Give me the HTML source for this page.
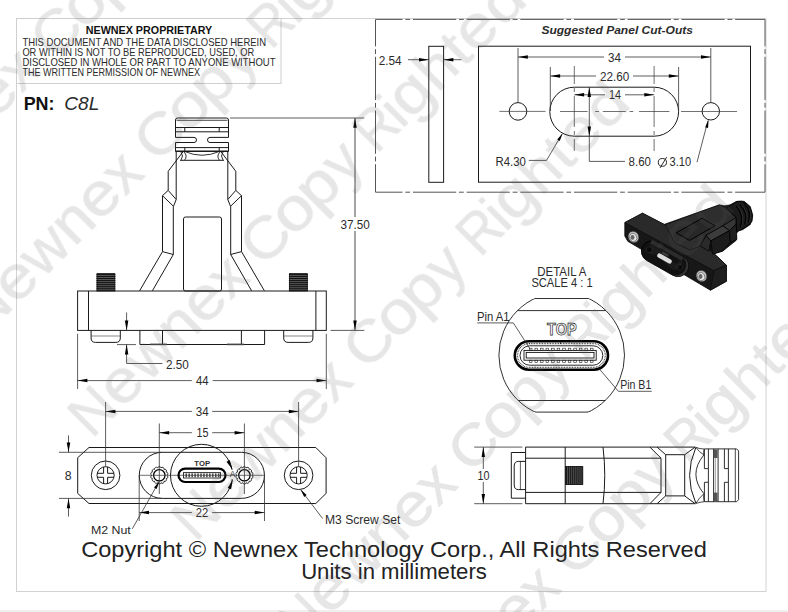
<!DOCTYPE html>
<html><head><meta charset="utf-8"><title>C8L</title>
<style>
html,body{margin:0;padding:0;background:#fff;}
body{width:788px;height:612px;overflow:hidden;}
svg{display:block;}
text{font-family:"Liberation Sans",sans-serif;}
</style></head>
<body>
<svg width="788" height="612" viewBox="0 0 788 612">
<rect width="788" height="612" fill="#fff"/>
<rect x="0" y="610" width="788" height="2" fill="#f0f0f0"/>
<rect x="16.5" y="18.5" width="749.5" height="573" fill="none" stroke="#d2d2d2" stroke-width="1"/>
<rect x="16.5" y="18.5" width="264.5" height="65" fill="none" stroke="#cfcfcf" stroke-width="1"/>
<text x="149" y="34.2" font-size="11.7" text-anchor="middle" font-weight="bold" font-style="normal" fill="#111" textLength="126.5" lengthAdjust="spacingAndGlyphs" >NEWNEX PROPRIETARY</text>
<text x="22.4" y="46.2" font-size="10.2" text-anchor="start" font-weight="normal" font-style="normal" fill="#2a2a2a" textLength="243.6" lengthAdjust="spacingAndGlyphs" >THIS DOCUMENT AND THE DATA DISCLOSED HEREIN</text>
<text x="22.4" y="56.2" font-size="10.2" text-anchor="start" font-weight="normal" font-style="normal" fill="#2a2a2a" textLength="231.8" lengthAdjust="spacingAndGlyphs" >OR WITHIN IS NOT TO BE REPRODUCED, USED, OR</text>
<text x="22.4" y="66.1" font-size="10.2" text-anchor="start" font-weight="normal" font-style="normal" fill="#2a2a2a" textLength="253.1" lengthAdjust="spacingAndGlyphs" >DISCLOSED IN WHOLE OR PART TO ANYONE WITHOUT</text>
<text x="22.4" y="75.9" font-size="10.2" text-anchor="start" font-weight="normal" font-style="normal" fill="#2a2a2a" textLength="177.6" lengthAdjust="spacingAndGlyphs" >THE WRITTEN PERMISSION OF NEWNEX</text>
<text x="23.7" y="110" font-size="17.9" text-anchor="start" font-weight="bold" font-style="normal" fill="#111" >PN:</text>
<text x="64.3" y="110" font-size="17.9" text-anchor="start" font-weight="normal" font-style="italic" fill="#2b2b2b" textLength="35" lengthAdjust="spacingAndGlyphs" >C8L</text>
<text x="394" y="557" font-size="21.2" text-anchor="middle" font-weight="normal" font-style="normal" fill="#222" textLength="625.7" lengthAdjust="spacingAndGlyphs" >Copyright © Newnex Technology Corp., All Rights Reserved</text>
<text x="394" y="578.5" font-size="21.2" text-anchor="middle" font-weight="normal" font-style="normal" fill="#222" textLength="185.7" lengthAdjust="spacingAndGlyphs" >Units in millimeters</text>
<path d="M175.5,137.4 L175.5,120 Q175.5,118 177.5,118 L226.5,118 Q228.5,118 228.5,120 L228.5,137.4" stroke="#1a1a1a" stroke-width="1" fill="none" />
<path d="M175.5,142.5 L175.5,151.5 M228.5,142.5 L228.5,151.5" stroke="#1a1a1a" stroke-width="1" fill="none" />
<line x1="176.5" y1="120.3" x2="227.5" y2="120.3" stroke="#1a1a1a" stroke-width="0.8" />
<line x1="175.5" y1="127.5" x2="228.5" y2="127.5" stroke="#1a1a1a" stroke-width="1" />
<line x1="175.5" y1="131.8" x2="228.5" y2="131.8" stroke="#1a1a1a" stroke-width="1" />
<line x1="184.8" y1="127.5" x2="184.8" y2="131.8" stroke="#1a1a1a" stroke-width="1" />
<line x1="219.2" y1="127.5" x2="219.2" y2="131.8" stroke="#1a1a1a" stroke-width="1" />
<path d="M175.5,137.4 L194,137.4 Q196.5,137.4 196.5,139.95 Q196.5,142.5 194,142.5 L175.5,142.5" stroke="#1a1a1a" stroke-width="1" fill="none" />
<path d="M228.5,137.4 L210,137.4 Q207.5,137.4 207.5,139.95 Q207.5,142.5 210,142.5 L228.5,142.5" stroke="#1a1a1a" stroke-width="1" fill="none" />
<line x1="175.5" y1="147.6" x2="228.5" y2="147.6" stroke="#1a1a1a" stroke-width="1" />
<line x1="175.5" y1="151.2" x2="228.5" y2="151.2" stroke="#1a1a1a" stroke-width="1.6" />
<line x1="184.8" y1="147.6" x2="184.8" y2="151.2" stroke="#1a1a1a" stroke-width="1" />
<line x1="219.2" y1="147.6" x2="219.2" y2="151.2" stroke="#1a1a1a" stroke-width="1" />
<path d="M184.8,151.5 Q202,159 219.2,151.5" stroke="#1a1a1a" stroke-width="0.9" fill="none" />
<path d="M184,152 Q188,156 184.5,160.3 M181,152 Q184,156 181,160" stroke="#1a1a1a" stroke-width="0.9" fill="none" />
<path d="M220,152 Q216,156 219.5,160.3 M223,152 Q220,156 223,160" stroke="#1a1a1a" stroke-width="0.9" fill="none" />
<line x1="180" y1="160.3" x2="224" y2="160.3" stroke="#1a1a1a" stroke-width="1" />
<polyline points="182.8,152 168.2,171.3 168.2,190.4 162.5,195.7 162.5,251.6 139.6,290.8" stroke="#1a1a1a" stroke-width="1" fill="none" />
<line x1="176.2" y1="151.2" x2="176.2" y2="199.5" stroke="#1a1a1a" stroke-width="1" />
<line x1="168.2" y1="190.4" x2="176.2" y2="199.5" stroke="#1a1a1a" stroke-width="1" />
<line x1="176.2" y1="199.5" x2="173.5" y2="206.3" stroke="#1a1a1a" stroke-width="1" />
<line x1="162.5" y1="195.7" x2="173.5" y2="206.3" stroke="#1a1a1a" stroke-width="1" />
<line x1="173.3" y1="206.3" x2="173.3" y2="254.5" stroke="#1a1a1a" stroke-width="1" />
<line x1="162.5" y1="251.6" x2="173.3" y2="254.5" stroke="#1a1a1a" stroke-width="1" />
<line x1="173.3" y1="254.5" x2="152.4" y2="290.8" stroke="#1a1a1a" stroke-width="1" />
<polyline points="221.2,152 235.8,171.3 235.8,190.4 241.5,195.7 241.5,251.6 264.4,290.8" stroke="#1a1a1a" stroke-width="1" fill="none" />
<line x1="227.8" y1="151.2" x2="227.8" y2="199.5" stroke="#1a1a1a" stroke-width="1" />
<line x1="235.8" y1="190.4" x2="227.8" y2="199.5" stroke="#1a1a1a" stroke-width="1" />
<line x1="227.8" y1="199.5" x2="230.5" y2="206.3" stroke="#1a1a1a" stroke-width="1" />
<line x1="241.5" y1="195.7" x2="230.5" y2="206.3" stroke="#1a1a1a" stroke-width="1" />
<line x1="230.7" y1="206.3" x2="230.7" y2="254.5" stroke="#1a1a1a" stroke-width="1" />
<line x1="241.5" y1="251.6" x2="230.7" y2="254.5" stroke="#1a1a1a" stroke-width="1" />
<line x1="230.7" y1="254.5" x2="251.6" y2="290.8" stroke="#1a1a1a" stroke-width="1" />
<rect x="183.5" y="217" width="38" height="74" rx="2" fill="none" stroke="#1a1a1a" stroke-width="1"/>
<rect x="77.6" y="291" width="248.7" height="39.4" fill="none" stroke="#1a1a1a" stroke-width="1"/>
<line x1="88.5" y1="291" x2="88.5" y2="330.4" stroke="#1a1a1a" stroke-width="1" />
<line x1="315.9" y1="291" x2="315.9" y2="330.4" stroke="#1a1a1a" stroke-width="1" />
<rect x="97" y="273.6" width="17.8" height="17.4" fill="#5a5a5a" stroke="#111" stroke-width="0.8"/>
<line x1="96.4" y1="274.60" x2="115.4" y2="274.60" stroke="#111" stroke-width="1"/>
<line x1="96.4" y1="276.55" x2="115.4" y2="276.55" stroke="#111" stroke-width="1"/>
<line x1="96.4" y1="278.50" x2="115.4" y2="278.50" stroke="#111" stroke-width="1"/>
<line x1="96.4" y1="280.45" x2="115.4" y2="280.45" stroke="#111" stroke-width="1"/>
<line x1="96.4" y1="282.40" x2="115.4" y2="282.40" stroke="#111" stroke-width="1"/>
<line x1="96.4" y1="284.35" x2="115.4" y2="284.35" stroke="#111" stroke-width="1"/>
<line x1="96.4" y1="286.30" x2="115.4" y2="286.30" stroke="#111" stroke-width="1"/>
<line x1="96.4" y1="288.25" x2="115.4" y2="288.25" stroke="#111" stroke-width="1"/>
<line x1="96.4" y1="290.20" x2="115.4" y2="290.20" stroke="#111" stroke-width="1"/>
<rect x="289.5" y="273.6" width="17.8" height="17.4" fill="#5a5a5a" stroke="#111" stroke-width="0.8"/>
<line x1="288.9" y1="274.60" x2="307.9" y2="274.60" stroke="#111" stroke-width="1"/>
<line x1="288.9" y1="276.55" x2="307.9" y2="276.55" stroke="#111" stroke-width="1"/>
<line x1="288.9" y1="278.50" x2="307.9" y2="278.50" stroke="#111" stroke-width="1"/>
<line x1="288.9" y1="280.45" x2="307.9" y2="280.45" stroke="#111" stroke-width="1"/>
<line x1="288.9" y1="282.40" x2="307.9" y2="282.40" stroke="#111" stroke-width="1"/>
<line x1="288.9" y1="284.35" x2="307.9" y2="284.35" stroke="#111" stroke-width="1"/>
<line x1="288.9" y1="286.30" x2="307.9" y2="286.30" stroke="#111" stroke-width="1"/>
<line x1="288.9" y1="288.25" x2="307.9" y2="288.25" stroke="#111" stroke-width="1"/>
<line x1="288.9" y1="290.20" x2="307.9" y2="290.20" stroke="#111" stroke-width="1"/>
<path d="M91.1,330.4 L91.1,338 Q91.1,342.4 95.5,342.4 L115.89999999999999,342.4 Q120.3,342.4 120.3,338 L120.3,330.4" stroke="#1a1a1a" stroke-width="1" fill="none" />
<line x1="91.1" y1="336" x2="120.3" y2="336" stroke="#555" stroke-width="0.7" />
<path d="M283.7,330.4 L283.7,338 Q283.7,342.4 288.09999999999997,342.4 L308.5,342.4 Q312.9,342.4 312.9,338 L312.9,330.4" stroke="#1a1a1a" stroke-width="1" fill="none" />
<line x1="283.7" y1="336" x2="312.9" y2="336" stroke="#555" stroke-width="0.7" />
<polyline points="139.9,330.4 139.9,344.5 264.6,344.5 264.6,330.4" stroke="#1a1a1a" stroke-width="1" fill="none" />
<line x1="162.5" y1="330.4" x2="162.5" y2="344.5" stroke="#1a1a1a" stroke-width="1" />
<line x1="241.4" y1="330.4" x2="241.4" y2="344.5" stroke="#1a1a1a" stroke-width="1" />
<rect x="150" y="343.6" width="17" height="1.6" fill="#444"/>
<rect x="227" y="343.6" width="17" height="1.6" fill="#444"/>
<line x1="230" y1="118" x2="364.3" y2="118" stroke="#333" stroke-width="0.8" />
<line x1="330.5" y1="330.4" x2="364.3" y2="330.4" stroke="#333" stroke-width="0.8" />
<line x1="355" y1="118" x2="355" y2="217" stroke="#333" stroke-width="0.9" />
<line x1="355" y1="231" x2="355" y2="330.4" stroke="#333" stroke-width="0.9" />
<polygon points="355.00,118.00 353.25,127.80 356.75,127.80" fill="#000"/>
<polygon points="355.00,330.40 356.75,320.60 353.25,320.60" fill="#000"/>
<text x="355.2" y="229.3" font-size="12.7" text-anchor="middle" font-weight="normal" font-style="normal" fill="#2b2b2b" textLength="29.4" lengthAdjust="spacingAndGlyphs" >37.50</text>
<line x1="126.6" y1="312.4" x2="126.6" y2="330.4" stroke="#333" stroke-width="0.8" />
<polygon points="126.60,330.40 128.35,320.60 124.85,320.60" fill="#000"/>
<line x1="117" y1="344.6" x2="136" y2="344.6" stroke="#333" stroke-width="0.8" />
<polyline points="126.6,344.6 126.6,363.5 162.4,363.5" stroke="#333" stroke-width="0.8" fill="none" />
<polygon points="126.60,344.60 124.85,354.40 128.35,354.40" fill="#000"/>
<text x="166" y="369" font-size="12.5" text-anchor="start" font-weight="normal" font-style="normal" fill="#2b2b2b" textLength="22.8" lengthAdjust="spacingAndGlyphs" >2.50</text>
<line x1="77.6" y1="333.8" x2="77.6" y2="389" stroke="#333" stroke-width="0.8" />
<line x1="326.3" y1="333.8" x2="326.3" y2="389" stroke="#333" stroke-width="0.8" />
<line x1="77.6" y1="380.6" x2="191.8" y2="380.6" stroke="#333" stroke-width="0.8" />
<line x1="212.6" y1="380.6" x2="326.3" y2="380.6" stroke="#333" stroke-width="0.8" />
<polygon points="77.60,380.60 87.40,382.35 87.40,378.85" fill="#000"/>
<polygon points="326.30,380.60 316.50,378.85 316.50,382.35" fill="#000"/>
<text x="202.3" y="384.8" font-size="12.0" text-anchor="middle" font-weight="normal" font-style="normal" fill="#2b2b2b" textLength="12.6" lengthAdjust="spacingAndGlyphs" >44</text>
<polygon points="89,447.5 315.8,447.5 326.1,457.8 326.1,493.4 315.8,503.5 89,503.5 77.7,493.4 77.7,457.7" stroke="#1a1a1a" stroke-width="1" fill="none" />
<path d="M162.3,452.3 L241.4,452.3 A23.05,23.05 0 0 1 241.4,498.40000000000003 L162.3,498.40000000000003 A23.05,23.05 0 0 1 162.3,452.3 Z" stroke="#1a1a1a" stroke-width="1" fill="none" />
<line x1="59" y1="452.3" x2="162.3" y2="452.3" stroke="#333" stroke-width="0.8" />
<line x1="59" y1="498.4" x2="162.3" y2="498.4" stroke="#333" stroke-width="0.8" />
<line x1="68.5" y1="435.4" x2="68.5" y2="452.3" stroke="#333" stroke-width="0.8" />
<polygon points="68.50,452.30 70.25,442.50 66.75,442.50" fill="#000"/>
<line x1="68.5" y1="498.4" x2="68.5" y2="516.6" stroke="#333" stroke-width="0.8" />
<polygon points="68.50,498.40 66.75,508.20 70.25,508.20" fill="#000"/>
<text x="68.1" y="480" font-size="12.3" text-anchor="middle" font-weight="normal" font-style="normal" fill="#2b2b2b" >8</text>
<circle cx="105.6" cy="475.3" r="14.3" stroke="#1a1a1a" stroke-width="1" fill="none" />
<circle cx="105.6" cy="475.3" r="8.6" stroke="#1a1a1a" stroke-width="1" fill="none" />
<path d="M107.60,483.66 L107.60,477.30 L113.96,477.30 M107.60,466.94 L107.60,473.30 L113.96,473.30 M103.60,483.66 L103.60,477.30 L97.24,477.30 M103.60,466.94 L103.60,473.30 L97.24,473.30 " stroke="#1a1a1a" stroke-width="1" fill="none" />
<circle cx="298.6" cy="475.3" r="14.3" stroke="#1a1a1a" stroke-width="1" fill="none" />
<circle cx="298.6" cy="475.3" r="8.6" stroke="#1a1a1a" stroke-width="1" fill="none" />
<path d="M300.60,483.66 L300.60,477.30 L306.96,477.30 M300.60,466.94 L300.60,473.30 L306.96,473.30 M296.60,483.66 L296.60,477.30 L290.24,477.30 M296.60,466.94 L296.60,473.30 L290.24,473.30 " stroke="#1a1a1a" stroke-width="1" fill="none" />
<path d="M166.90,475.30 A1.75,1.75 0 0 1 166.15,478.60 A1.75,1.75 0 0 1 164.04,481.24 A1.75,1.75 0 0 1 160.99,482.71 A1.75,1.75 0 0 1 157.61,482.71 A1.75,1.75 0 0 1 154.56,481.24 A1.75,1.75 0 0 1 152.45,478.60 A1.75,1.75 0 0 1 151.70,475.30 A1.75,1.75 0 0 1 152.45,472.00 A1.75,1.75 0 0 1 154.56,469.36 A1.75,1.75 0 0 1 157.61,467.89 A1.75,1.75 0 0 1 160.99,467.89 A1.75,1.75 0 0 1 164.04,469.36 A1.75,1.75 0 0 1 166.15,472.00 A1.75,1.75 0 0 1 166.90,475.30" stroke="#1a1a1a" stroke-width="0.9" fill="none" />
<circle cx="159.3" cy="475.3" r="5.7" stroke="#000" stroke-width="1.25" fill="none" />
<path d="M252.00,475.30 A1.75,1.75 0 0 1 251.25,478.60 A1.75,1.75 0 0 1 249.14,481.24 A1.75,1.75 0 0 1 246.09,482.71 A1.75,1.75 0 0 1 242.71,482.71 A1.75,1.75 0 0 1 239.66,481.24 A1.75,1.75 0 0 1 237.55,478.60 A1.75,1.75 0 0 1 236.80,475.30 A1.75,1.75 0 0 1 237.55,472.00 A1.75,1.75 0 0 1 239.66,469.36 A1.75,1.75 0 0 1 242.71,467.89 A1.75,1.75 0 0 1 246.09,467.89 A1.75,1.75 0 0 1 249.14,469.36 A1.75,1.75 0 0 1 251.25,472.00 A1.75,1.75 0 0 1 252.00,475.30" stroke="#1a1a1a" stroke-width="0.9" fill="none" />
<circle cx="244.4" cy="475.3" r="5.7" stroke="#000" stroke-width="1.25" fill="none" />
<line x1="139" y1="475.3" x2="265" y2="475.3" stroke="#333" stroke-width="0.7" />
<circle cx="201.5" cy="475.3" r="31" stroke="#1a1a1a" stroke-width="1" fill="none" />
<rect x="178.5" y="468.6" width="47" height="13.4" rx="6.7" fill="none" stroke="#000" stroke-width="2.2"/>
<rect x="183.5" y="472.6" width="37" height="5.4" fill="none" stroke="#222" stroke-width="0.9"/>
<rect x="185.50" y="473.4" width="1.5" height="3.8" fill="#444"/>
<rect x="188.45" y="473.4" width="1.5" height="3.8" fill="#444"/>
<rect x="191.40" y="473.4" width="1.5" height="3.8" fill="#444"/>
<rect x="194.35" y="473.4" width="1.5" height="3.8" fill="#444"/>
<rect x="197.30" y="473.4" width="1.5" height="3.8" fill="#444"/>
<rect x="200.25" y="473.4" width="1.5" height="3.8" fill="#444"/>
<rect x="203.20" y="473.4" width="1.5" height="3.8" fill="#444"/>
<rect x="206.15" y="473.4" width="1.5" height="3.8" fill="#444"/>
<rect x="209.10" y="473.4" width="1.5" height="3.8" fill="#444"/>
<rect x="212.05" y="473.4" width="1.5" height="3.8" fill="#444"/>
<rect x="215.00" y="473.4" width="1.5" height="3.8" fill="#444"/>
<rect x="217.95" y="473.4" width="1.5" height="3.8" fill="#444"/>
<text x="202.2" y="465.5" font-size="7.6" text-anchor="middle" font-weight="bold" font-style="normal" fill="#2b2b2b" textLength="15.7" lengthAdjust="spacingAndGlyphs" >TOP</text>
<rect x="229.6" y="469.8" width="5.6" height="9.4" fill="#fff"/>
<line x1="229.6" y1="475.3" x2="235.2" y2="475.3" stroke="#333" stroke-width="0.7" />
<text x="232.6" y="477.3" font-size="9.2" text-anchor="middle" font-weight="normal" font-style="normal" fill="#2b2b2b" textLength="5.6" lengthAdjust="spacingAndGlyphs" >A</text>
<polygon points="232.60,469.80 229.74,460.05 226.52,461.66" fill="#000"/>
<polygon points="232.90,479.20 227.72,487.94 231.10,489.20" fill="#000"/>
<line x1="105.6" y1="402" x2="105.6" y2="466.7" stroke="#333" stroke-width="0.8" />
<line x1="298.6" y1="402" x2="298.6" y2="466.7" stroke="#333" stroke-width="0.8" />
<line x1="105.6" y1="411.4" x2="191.9" y2="411.4" stroke="#333" stroke-width="0.8" />
<line x1="212.2" y1="411.4" x2="298.6" y2="411.4" stroke="#333" stroke-width="0.8" />
<polygon points="105.60,411.40 115.40,413.15 115.40,409.65" fill="#000"/>
<polygon points="298.60,411.40 288.80,409.65 288.80,413.15" fill="#000"/>
<text x="202.2" y="416.2" font-size="12.3" text-anchor="middle" font-weight="normal" font-style="normal" fill="#2b2b2b" textLength="12.9" lengthAdjust="spacingAndGlyphs" >34</text>
<line x1="159.3" y1="423.5" x2="159.3" y2="494" stroke="#333" stroke-width="0.8" />
<line x1="244.4" y1="423.5" x2="244.4" y2="494" stroke="#333" stroke-width="0.8" />
<line x1="159.3" y1="432.7" x2="191.9" y2="432.7" stroke="#333" stroke-width="0.8" />
<line x1="212.2" y1="432.7" x2="244.4" y2="432.7" stroke="#333" stroke-width="0.8" />
<polygon points="159.30,432.70 169.10,434.45 169.10,430.95" fill="#000"/>
<polygon points="244.40,432.70 234.60,430.95 234.60,434.45" fill="#000"/>
<text x="202.6" y="437" font-size="12.3" text-anchor="middle" font-weight="normal" font-style="normal" fill="#2b2b2b" textLength="12" lengthAdjust="spacingAndGlyphs" >15</text>
<line x1="139.2" y1="475.3" x2="139.2" y2="521" stroke="#333" stroke-width="0.8" />
<line x1="264.5" y1="475.3" x2="264.5" y2="521" stroke="#333" stroke-width="0.8" />
<line x1="139.2" y1="512.6" x2="191.9" y2="512.6" stroke="#333" stroke-width="0.8" />
<line x1="212.2" y1="512.6" x2="264.5" y2="512.6" stroke="#333" stroke-width="0.8" />
<polygon points="139.20,512.60 149.00,514.35 149.00,510.85" fill="#000"/>
<polygon points="264.50,512.60 254.70,510.85 254.70,514.35" fill="#000"/>
<text x="202" y="517" font-size="12.3" text-anchor="middle" font-weight="normal" font-style="normal" fill="#2b2b2b" textLength="12.5" lengthAdjust="spacingAndGlyphs" >22</text>
<line x1="158.6" y1="482.5" x2="132.3" y2="528.8" stroke="#333" stroke-width="0.8" />
<polygon points="159.30,481.20 154.07,487.43 156.68,488.91" fill="#000"/>
<text x="90.9" y="534.2" font-size="11.7" text-anchor="start" font-weight="normal" font-style="normal" fill="#2b2b2b" textLength="39.9" lengthAdjust="spacingAndGlyphs" >M2 Nut</text>
<line x1="300.9" y1="490" x2="322.6" y2="518.5" stroke="#333" stroke-width="0.8" />
<polygon points="300.60,489.60 304.20,496.90 306.60,495.10" fill="#000"/>
<text x="325" y="523.5" font-size="12" text-anchor="start" font-weight="normal" font-style="normal" fill="#2b2b2b" textLength="75.4" lengthAdjust="spacingAndGlyphs" >M3 Screw Set</text>
<line x1="375.5" y1="19.4" x2="765" y2="19.4" stroke="#555" stroke-width="1" stroke-dasharray="43.3,2.8,4.8,2.8" stroke-dashoffset="16.3"/>
<line x1="375.5" y1="192.2" x2="765" y2="192.2" stroke="#555" stroke-width="1" stroke-dasharray="43.3,2.8,4.8,2.8" stroke-dashoffset="16.3"/>
<line x1="375.5" y1="19.4" x2="375.5" y2="192.2" stroke="#555" stroke-width="1" stroke-dasharray="43.3,2.8,4.8,2.8" stroke-dashoffset="16.3"/>
<line x1="765" y1="19.4" x2="765" y2="192.2" stroke="#555" stroke-width="1" stroke-dasharray="43.3,2.8,4.8,2.8" stroke-dashoffset="16.3"/>
<text x="617.2" y="33.8" font-size="10.6" text-anchor="middle" font-weight="bold" font-style="italic" fill="#2b2b2b" textLength="151.6" lengthAdjust="spacingAndGlyphs" >Suggested Panel Cut-Outs</text>
<rect x="428.8" y="46.3" width="14.8" height="136" fill="none" stroke="#1a1a1a" stroke-width="1"/>
<rect x="478.5" y="46.2" width="272" height="136" fill="none" stroke="#1a1a1a" stroke-width="1"/>
<line x1="408" y1="59.7" x2="428.8" y2="59.7" stroke="#333" stroke-width="0.8" />
<polygon points="428.80,59.70 419.00,57.95 419.00,61.45" fill="#000"/>
<line x1="443.6" y1="59.7" x2="461.3" y2="59.7" stroke="#333" stroke-width="0.8" />
<polygon points="443.60,59.70 453.40,61.45 453.40,57.95" fill="#000"/>
<text x="390.2" y="64.7" font-size="12" text-anchor="middle" font-weight="normal" font-style="normal" fill="#2b2b2b" textLength="23" lengthAdjust="spacingAndGlyphs" >2.54</text>
<circle cx="518" cy="111.4" r="8.8" stroke="#1a1a1a" stroke-width="1" fill="none" />
<circle cx="710.8" cy="111.3" r="8.7" stroke="#1a1a1a" stroke-width="1" fill="none" />
<path d="M574.3,87.2 L654.1,87.2 A24.5,24.5 0 0 1 654.1,136.2 L574.3,136.2 A24.5,24.5 0 0 1 574.3,87.2 Z" stroke="#1a1a1a" stroke-width="1" fill="none" />
<line x1="499.4" y1="111.4" x2="545.5" y2="111.4" stroke="#333" stroke-width="0.7" />
<line x1="560" y1="111.5" x2="587.6" y2="111.5" stroke="#333" stroke-width="0.7" />
<line x1="595.2" y1="111.5" x2="599" y2="111.5" stroke="#333" stroke-width="0.7" />
<line x1="602.8" y1="111.5" x2="625.7" y2="111.5" stroke="#333" stroke-width="0.7" />
<line x1="629.5" y1="111.5" x2="633.3" y2="111.5" stroke="#333" stroke-width="0.7" />
<line x1="639" y1="111.5" x2="669.4" y2="111.5" stroke="#333" stroke-width="0.7" />
<line x1="681" y1="111.5" x2="737" y2="111.5" stroke="#333" stroke-width="0.7" />
<line x1="574.3" y1="66" x2="574.3" y2="84" stroke="#333" stroke-width="0.7" />
<line x1="574.3" y1="88" x2="574.3" y2="92" stroke="#333" stroke-width="0.7" />
<line x1="574.3" y1="96" x2="574.3" y2="127" stroke="#333" stroke-width="0.7" />
<line x1="574.3" y1="131" x2="574.3" y2="135" stroke="#333" stroke-width="0.7" />
<line x1="574.3" y1="139" x2="574.3" y2="151" stroke="#333" stroke-width="0.7" />
<line x1="654.1" y1="66" x2="654.1" y2="84" stroke="#333" stroke-width="0.7" />
<line x1="654.1" y1="88" x2="654.1" y2="92" stroke="#333" stroke-width="0.7" />
<line x1="654.1" y1="96" x2="654.1" y2="127" stroke="#333" stroke-width="0.7" />
<line x1="654.1" y1="131" x2="654.1" y2="135" stroke="#333" stroke-width="0.7" />
<line x1="654.1" y1="139" x2="654.1" y2="151" stroke="#333" stroke-width="0.7" />
<line x1="518" y1="48" x2="518" y2="102.6" stroke="#333" stroke-width="0.8" />
<line x1="710.8" y1="48" x2="710.8" y2="102.6" stroke="#333" stroke-width="0.8" />
<line x1="518" y1="57" x2="604" y2="57" stroke="#333" stroke-width="0.8" />
<line x1="625" y1="57" x2="710.8" y2="57" stroke="#333" stroke-width="0.8" />
<polygon points="518.00,57.00 527.80,58.75 527.80,55.25" fill="#000"/>
<polygon points="710.80,57.00 701.00,55.25 701.00,58.75" fill="#000"/>
<text x="614.5" y="62.1" font-size="12" text-anchor="middle" font-weight="normal" font-style="normal" fill="#2b2b2b" textLength="13" lengthAdjust="spacingAndGlyphs" >34</text>
<line x1="550.3" y1="67" x2="550.3" y2="111" stroke="#333" stroke-width="0.8" />
<line x1="678.6" y1="67" x2="678.6" y2="111" stroke="#333" stroke-width="0.8" />
<line x1="550.3" y1="76" x2="596" y2="76" stroke="#333" stroke-width="0.8" />
<line x1="633" y1="76" x2="678.6" y2="76" stroke="#333" stroke-width="0.8" />
<polygon points="550.30,76.00 560.10,77.75 560.10,74.25" fill="#000"/>
<polygon points="678.60,76.00 668.80,74.25 668.80,77.75" fill="#000"/>
<text x="614.6" y="80.6" font-size="12" text-anchor="middle" font-weight="normal" font-style="normal" fill="#2b2b2b" textLength="29.2" lengthAdjust="spacingAndGlyphs" >22.60</text>
<line x1="574.3" y1="94.8" x2="605" y2="94.8" stroke="#333" stroke-width="0.8" />
<line x1="625" y1="94.8" x2="654.1" y2="94.8" stroke="#333" stroke-width="0.8" />
<polygon points="574.30,94.80 584.10,96.55 584.10,93.05" fill="#000"/>
<polygon points="654.10,94.80 644.30,93.05 644.30,96.55" fill="#000"/>
<text x="615" y="99.4" font-size="12" text-anchor="middle" font-weight="normal" font-style="normal" fill="#2b2b2b" textLength="12" lengthAdjust="spacingAndGlyphs" >14</text>
<polyline points="589.3,87.2 589.3,161.4 625,161.4" stroke="#333" stroke-width="0.8" fill="none" />
<polygon points="589.30,87.20 587.55,97.00 591.05,97.00" fill="#000"/>
<polygon points="589.30,136.20 591.05,126.40 587.55,126.40" fill="#000"/>
<text x="628.6" y="166.2" font-size="12" text-anchor="start" font-weight="normal" font-style="normal" fill="#2b2b2b" textLength="22.4" lengthAdjust="spacingAndGlyphs" >8.60</text>
<ellipse cx="662.4" cy="162.4" rx="4.1" ry="3.9" fill="none" stroke="#111" stroke-width="0.9"/>
<line x1="660.1" y1="167.8" x2="666.7" y2="157.1" stroke="#111" stroke-width="0.9" />
<text x="669.5" y="166.2" font-size="12" text-anchor="start" font-weight="normal" font-style="normal" fill="#2b2b2b" textLength="21.6" lengthAdjust="spacingAndGlyphs" >3.10</text>
<line x1="697" y1="162.2" x2="708" y2="120.5" stroke="#333" stroke-width="0.8" />
<polygon points="708.60,119.80 705.15,127.17 708.06,127.92" fill="#000"/>
<text x="495.5" y="166.3" font-size="12" text-anchor="start" font-weight="normal" font-style="normal" fill="#2b2b2b" textLength="30.4" lengthAdjust="spacingAndGlyphs" >R4.30</text>
<polyline points="528.8,160.4 546.5,160.4 562.2,133.9" stroke="#333" stroke-width="0.8" fill="none" />
<polygon points="562.60,133.30 557.23,139.42 559.81,140.95" fill="#000"/>
<text x="561.8" y="276" font-size="12.3" text-anchor="middle" font-weight="normal" font-style="normal" fill="#2b2b2b" textLength="49.1" lengthAdjust="spacingAndGlyphs" >DETAIL A</text>
<text x="562" y="287.3" font-size="12.3" text-anchor="middle" font-weight="normal" font-style="normal" fill="#2b2b2b" textLength="61.2" lengthAdjust="spacingAndGlyphs" >SCALE 4 : 1</text>
<clipPath id="dclip"><rect x="480" y="298.5" width="160" height="113.6"/></clipPath>
<g clip-path="url(#dclip)"><circle cx="561.7" cy="355.2" r="62.8" stroke="#1a1a1a" stroke-width="0.9" fill="none"/></g>
<line x1="534.7" y1="298.5" x2="588.7" y2="298.5" stroke="#1a1a1a" stroke-width="0.9" />
<line x1="535.13" y1="412.1" x2="588.27" y2="412.1" stroke="#1a1a1a" stroke-width="0.9" />
<line x1="517.49" y1="310.6" x2="605.91" y2="310.6" stroke="#1a1a1a" stroke-width="0.9" />
<line x1="518.21" y1="400.5" x2="605.19" y2="400.5" stroke="#1a1a1a" stroke-width="0.9" />
<text x="561.9" y="334.6" font-size="17.2" text-anchor="middle" font-weight="bold" font-style="normal" fill="#fff" textLength="29.7" lengthAdjust="spacingAndGlyphs" stroke="#1a1a1a" stroke-width="0.75">TOP</text>
<rect x="514.8" y="341.3" width="93.2" height="28.4" rx="14.2" fill="none" stroke="#000" stroke-width="2.6"/>
<rect x="517.5" y="343.6" width="87.8" height="23.8" rx="11.9" fill="none" stroke="#333" stroke-width="1.2" stroke-dasharray="0.8,0.8"/>
<rect x="520" y="345.8" width="82.8" height="19.4" rx="9.7" fill="none" stroke="#111" stroke-width="0.9"/>
<rect x="524" y="350.4" width="72.2" height="9.8" fill="none" stroke="#111" stroke-width="0.9"/>
<rect x="526.2" y="352.4" width="67.8" height="5.6" fill="none" stroke="#111" stroke-width="0.9"/>
<rect x="529.40" y="348.2" width="2.6" height="2.2" fill="none" stroke="#222" stroke-width="0.6"/>
<rect x="529.40" y="360.2" width="2.6" height="2.2" fill="none" stroke="#222" stroke-width="0.6"/>
<rect x="534.95" y="348.2" width="2.6" height="2.2" fill="none" stroke="#222" stroke-width="0.6"/>
<rect x="534.95" y="360.2" width="2.6" height="2.2" fill="none" stroke="#222" stroke-width="0.6"/>
<rect x="540.50" y="348.2" width="2.6" height="2.2" fill="none" stroke="#222" stroke-width="0.6"/>
<rect x="540.50" y="360.2" width="2.6" height="2.2" fill="none" stroke="#222" stroke-width="0.6"/>
<rect x="546.05" y="348.2" width="2.6" height="2.2" fill="none" stroke="#222" stroke-width="0.6"/>
<rect x="546.05" y="360.2" width="2.6" height="2.2" fill="none" stroke="#222" stroke-width="0.6"/>
<rect x="551.60" y="348.2" width="2.6" height="2.2" fill="none" stroke="#222" stroke-width="0.6"/>
<rect x="551.60" y="360.2" width="2.6" height="2.2" fill="none" stroke="#222" stroke-width="0.6"/>
<rect x="557.15" y="348.2" width="2.6" height="2.2" fill="none" stroke="#222" stroke-width="0.6"/>
<rect x="557.15" y="360.2" width="2.6" height="2.2" fill="none" stroke="#222" stroke-width="0.6"/>
<rect x="562.70" y="348.2" width="2.6" height="2.2" fill="none" stroke="#222" stroke-width="0.6"/>
<rect x="562.70" y="360.2" width="2.6" height="2.2" fill="none" stroke="#222" stroke-width="0.6"/>
<rect x="568.25" y="348.2" width="2.6" height="2.2" fill="none" stroke="#222" stroke-width="0.6"/>
<rect x="568.25" y="360.2" width="2.6" height="2.2" fill="none" stroke="#222" stroke-width="0.6"/>
<rect x="573.80" y="348.2" width="2.6" height="2.2" fill="none" stroke="#222" stroke-width="0.6"/>
<rect x="573.80" y="360.2" width="2.6" height="2.2" fill="none" stroke="#222" stroke-width="0.6"/>
<rect x="579.35" y="348.2" width="2.6" height="2.2" fill="none" stroke="#222" stroke-width="0.6"/>
<rect x="579.35" y="360.2" width="2.6" height="2.2" fill="none" stroke="#222" stroke-width="0.6"/>
<rect x="584.90" y="348.2" width="2.6" height="2.2" fill="none" stroke="#222" stroke-width="0.6"/>
<rect x="584.90" y="360.2" width="2.6" height="2.2" fill="none" stroke="#222" stroke-width="0.6"/>
<rect x="590.45" y="348.2" width="2.6" height="2.2" fill="none" stroke="#222" stroke-width="0.6"/>
<rect x="590.45" y="360.2" width="2.6" height="2.2" fill="none" stroke="#222" stroke-width="0.6"/>
<line x1="560.5" y1="341" x2="560.5" y2="344" stroke="#1a1a1a" stroke-width="0.8" />
<text x="476.9" y="320.9" font-size="11.9" text-anchor="start" font-weight="normal" font-style="normal" fill="#2b2b2b" textLength="32.6" lengthAdjust="spacingAndGlyphs" >Pin A1</text>
<polyline points="477.3,322.9 513.3,322.9 530.4,349.5" stroke="#333" stroke-width="0.8" fill="none" />
<text x="620.2" y="388.9" font-size="11.9" text-anchor="start" font-weight="normal" font-style="normal" fill="#2b2b2b" textLength="31.1" lengthAdjust="spacingAndGlyphs" >Pin B1</text>
<polyline points="651.7,391.3 618.4,391.3 598.9,368.4" stroke="#333" stroke-width="0.8" fill="none" />
<line x1="474.2" y1="447.1" x2="522.4" y2="447.1" stroke="#333" stroke-width="0.8" />
<line x1="474.2" y1="503.7" x2="522.4" y2="503.7" stroke="#333" stroke-width="0.8" />
<line x1="483.3" y1="447.1" x2="483.3" y2="469" stroke="#333" stroke-width="0.8" />
<line x1="483.3" y1="482" x2="483.3" y2="503.7" stroke="#333" stroke-width="0.8" />
<polygon points="483.30,447.10 481.55,456.90 485.05,456.90" fill="#000"/>
<polygon points="483.30,503.70 485.05,493.90 481.55,493.90" fill="#000"/>
<text x="483.6" y="479.9" font-size="12" text-anchor="middle" font-weight="normal" font-style="normal" fill="#2b2b2b" textLength="12" lengthAdjust="spacingAndGlyphs" >10</text>
<polyline points="695.2,447.1 525.6,447.1 525.6,503.7 695.2,503.7" stroke="#1a1a1a" stroke-width="1" fill="none" />
<line x1="525.6" y1="458.2" x2="661" y2="458.2" stroke="#1a1a1a" stroke-width="1" />
<line x1="525.6" y1="492.4" x2="661" y2="492.4" stroke="#1a1a1a" stroke-width="1" />
<line x1="565.2" y1="447.1" x2="565.2" y2="503.7" stroke="#1a1a1a" stroke-width="1" />
<path d="M603,447.1 Q606.5,475.4 603,503.7" stroke="#1a1a1a" stroke-width="1" fill="none" />
<polyline points="525.6,452.5 511.3,452.5 511.3,498.2 525.6,498.2" stroke="#1a1a1a" stroke-width="1" fill="none" />
<path d="M525.6,461.4 L518.5,461.4 Q514.2,461.4 514.2,466 L514.2,485 Q514.2,489.6 518.5,489.6 L525.6,489.6" stroke="#1a1a1a" stroke-width="1" fill="none" />
<line x1="520.4" y1="461.4" x2="520.4" y2="489.6" stroke="#1a1a1a" stroke-width="0.7" />
<rect x="565.6" y="466.6" width="17.2" height="17.8" fill="#5a5a5a" stroke="#111" stroke-width="0.8"/>
<line x1="566.40" y1="466" x2="566.40" y2="485" stroke="#111" stroke-width="1"/>
<line x1="568.35" y1="466" x2="568.35" y2="485" stroke="#111" stroke-width="1"/>
<line x1="570.30" y1="466" x2="570.30" y2="485" stroke="#111" stroke-width="1"/>
<line x1="572.25" y1="466" x2="572.25" y2="485" stroke="#111" stroke-width="1"/>
<line x1="574.20" y1="466" x2="574.20" y2="485" stroke="#111" stroke-width="1"/>
<line x1="576.15" y1="466" x2="576.15" y2="485" stroke="#111" stroke-width="1"/>
<line x1="578.10" y1="466" x2="578.10" y2="485" stroke="#111" stroke-width="1"/>
<line x1="580.05" y1="466" x2="580.05" y2="485" stroke="#111" stroke-width="1"/>
<line x1="582.00" y1="466" x2="582.00" y2="485" stroke="#111" stroke-width="1"/>
<line x1="649.9" y1="447.1" x2="661" y2="458.2" stroke="#1a1a1a" stroke-width="1" />
<line x1="657.1" y1="447.1" x2="665.7" y2="454.7" stroke="#1a1a1a" stroke-width="1" />
<line x1="649.9" y1="503.7" x2="661" y2="492.4" stroke="#1a1a1a" stroke-width="1" />
<line x1="657.1" y1="503.7" x2="665.7" y2="495.9" stroke="#1a1a1a" stroke-width="1" />
<line x1="661" y1="458.2" x2="661" y2="492.4" stroke="#1a1a1a" stroke-width="1" />
<line x1="665.7" y1="454.7" x2="665.7" y2="495.9" stroke="#1a1a1a" stroke-width="1" />
<polyline points="665.7,454.7 684.7,454.7 684.7,495.9 665.7,495.9" stroke="#1a1a1a" stroke-width="1" fill="none" />
<line x1="684.7" y1="454.7" x2="695.2" y2="447.1" stroke="#1a1a1a" stroke-width="1" />
<line x1="684.7" y1="495.9" x2="695.2" y2="503.7" stroke="#1a1a1a" stroke-width="1" />
<path d="M695.9,447.4 Q683.3,475.4 695.9,503.4" stroke="#1a1a1a" stroke-width="1" fill="none" />
<path d="M703.9,454.9 Q687.9,474.3 703.9,493.7" stroke="#1a1a1a" stroke-width="0.9" fill="none" />
<path d="M695.9,447.4 Q700,449 704.2,449 Q703,453 703.9,454.9 Q699,452 695.9,447.4 Z" stroke="#1a1a1a" stroke-width="0.8" fill="none" />
<path d="M695.9,503.4 Q700,502 704.2,501.7 Q703,497 703.9,493.7 Q699,498 695.9,503.4 Z" stroke="#1a1a1a" stroke-width="0.8" fill="none" />
<polyline points="704.4,448.9 736.6,448.9 738.6,450.9 738.6,499.7 736.6,501.7 704.4,501.7" stroke="#1a1a1a" stroke-width="0.9" fill="none" />
<polyline points="704.4,448.9 704.4,468.6 708.4,468.6 708.4,482.3 704.4,482.3 704.4,501.7" stroke="#1a1a1a" stroke-width="0.9" fill="none" />
<line x1="708.4" y1="448.9" x2="708.4" y2="468.6" stroke="#1a1a1a" stroke-width="0.9" />
<line x1="708.4" y1="482.3" x2="708.4" y2="501.7" stroke="#1a1a1a" stroke-width="0.9" />
<line x1="713.6" y1="448.9" x2="713.6" y2="501.7" stroke="#1a1a1a" stroke-width="0.9" />
<line x1="718.1" y1="448.9" x2="718.1" y2="501.7" stroke="#1a1a1a" stroke-width="0.9" />
<line x1="715.4" y1="448.9" x2="715.4" y2="501.7" stroke="#666" stroke-width="0.6" />
<rect x="714" y="449.4" width="3.6" height="8.6" fill="#555"/>
<rect x="714" y="492.59999999999997" width="3.6" height="8.6" fill="#555"/>
<polyline points="724.4,448.9 724.4,468.6 728.4,468.6 728.4,482.3 724.4,482.3 724.4,501.7" stroke="#1a1a1a" stroke-width="0.9" fill="none" />
<line x1="728.4" y1="448.9" x2="728.4" y2="468.6" stroke="#1a1a1a" stroke-width="0.9" />
<line x1="728.4" y1="482.3" x2="728.4" y2="501.7" stroke="#1a1a1a" stroke-width="0.9" />
<line x1="735.3" y1="448.9" x2="735.3" y2="501.7" stroke="#1a1a1a" stroke-width="0.8" />
<polygon points="642.5,213.2 664.2,224.4 719.3,204.9 724.6,205.8 730,204.9 737,201.3 744.1,201.3 750.4,206.7 752.3,215.5 750.4,224.4 742.4,229.8 736.1,231 736.1,240.4 722.8,251 714,253.7 721,260 726.4,265.3 726.4,281.3 710.4,290.2 627.8,241.3 624.8,236 624.8,222.6" stroke="#0a0a0a" stroke-width="0.8" fill="#171717" />
<polygon points="642.5,213.2 664.2,224.4 700,242 714,253.7 721,260 726.4,265.3 713.9,270.6 624.8,222.6" stroke="#0a0a0a" stroke-width="0.6" fill="#2a2a2a" />
<polygon points="713.9,270.6 726.4,265.3 726.4,281.3 710.4,290.2" stroke="#0a0a0a" stroke-width="0.6" fill="#1e1e1e" />
<polygon points="664.9,224.8 719.3,204.9 725.9,208.1 736.2,217.4 722.9,225.8 706,235.4 700.1,246 690,250 675,243" stroke="#0a0a0a" stroke-width="0.6" fill="#2e2e2e" />
<polygon points="676.2,232.9 702,218.2 715.1,225.7 689.6,240.4" stroke="#000" stroke-width="1.0" fill="#282828" />
<polygon points="706,235.4 722.9,225.8 729.6,230.6 710.8,240.9" stroke="#000" stroke-width="0.7" fill="#3c3c3c" />
<polygon points="722.9,225.8 736.2,217.4 736.2,224 729.6,230.6" stroke="#000" stroke-width="0.7" fill="#363636" />
<polygon points="710.8,240.9 729.6,230.6 730.3,242.4 722.8,251 714,253.7 712.6,254.1" stroke="#000" stroke-width="0.7" fill="#1c1c1c" />
<polygon points="729.6,230.6 736.2,224 736.9,239.4 730.3,242.4" stroke="#000" stroke-width="0.7" fill="#202020" />
<polygon points="706,235.4 710.8,240.9 709,251.2 700.1,246" stroke="#000" stroke-width="0.7" fill="#2a2a2a" />
<polygon points="725.9,208.1 736.3,201.6 741.6,201.2 747.5,204.5 751.4,210.4 752.7,215.6 752,221.5 748.1,225.4 738.3,231.3 737,232.6 736.2,224 736.2,217.4" stroke="#000" stroke-width="0.8" fill="#1b1b1b" />
<path d="M736.5,206 Q744.5,215 740.5,227.5" fill="none" stroke="#000" stroke-width="1.6"/>
<path d="M737.5,206 Q745.5,215 741.5,227.5" fill="none" stroke="#3a3a3a" stroke-width="0.7"/>
<path d="M740,204.5 Q748.5,212.5 745,224.5" fill="none" stroke="#000" stroke-width="1.6"/>
<path d="M741,204.5 Q749.5,212.5 746,224.5" fill="none" stroke="#3a3a3a" stroke-width="0.7"/>
<path d="M744.5,204 Q752,210 748.5,222" fill="none" stroke="#000" stroke-width="1.6"/>
<path d="M745.5,204 Q753,210 749.5,222" fill="none" stroke="#3a3a3a" stroke-width="0.7"/>
<g transform="translate(664.5,258.5) rotate(29.5)"><rect x="-25" y="-10.5" width="51" height="21" rx="10.5" fill="#111" stroke="#000" stroke-width="0.8"/><rect x="-20" y="-10.5" width="36" height="4" fill="#2c2c2c"/><path d="M15.5,-10.5 A10.5,10.5 0 0 1 15.5,10.5 L13,10.5 A10.5,10.5 0 0 0 13,-10.5 Z" fill="#333"/><rect x="-8" y="-2.2" width="16" height="4.4" rx="2.2" fill="#f4f4f4"/><rect x="-5" y="-5.5" width="7" height="2.5" fill="#3a3a3a"/><circle cx="-17.5" cy="0" r="3" fill="#0a0a0a" stroke="#2a2a2a" stroke-width="0.7"/><circle cx="17.5" cy="0" r="3" fill="#0a0a0a" stroke="#2a2a2a" stroke-width="0.7"/></g>
<ellipse cx="633.5" cy="236.9" rx="5.3" ry="5.9" transform="rotate(-30 633.5 236.9)" fill="#bdbdbd" stroke="#222" stroke-width="0.6"/>
<ellipse cx="632.9" cy="237.20000000000002" rx="3.6" ry="4.2" transform="rotate(-30 633.5 236.9)" fill="#e8e8e8" stroke="#555" stroke-width="0.6"/>
<ellipse cx="632.5" cy="237.4" rx="2" ry="2.4" fill="#666"/>
<ellipse cx="701.5" cy="276" rx="5.3" ry="5.9" transform="rotate(-30 701.5 276)" fill="#bdbdbd" stroke="#222" stroke-width="0.6"/>
<ellipse cx="700.9" cy="276.3" rx="3.6" ry="4.2" transform="rotate(-30 701.5 276)" fill="#e8e8e8" stroke="#555" stroke-width="0.6"/>
<ellipse cx="700.5" cy="276.5" rx="2" ry="2.4" fill="#666"/>
<g opacity="0.15" fill="#5a5a5a" stroke="#5a5a5a" stroke-width="0.6" stroke-linejoin="round" font-size="57" font-family="Liberation Sans" text-anchor="middle">
<g transform="translate(56,31) rotate(-45)">
<text transform="translate(-244.2,20.4) scale(1.0,1.0)">N</text>
<text transform="translate(-204.6,20.4) scale(1.18,1.06)">e</text>
<text transform="translate(-163.3,20.4) scale(1.08,1.06)">w</text>
<text transform="translate(-123.1,20.4) scale(1.1,1.06)">n</text>
<text transform="translate(-87.2,20.4) scale(1.18,1.06)">e</text>
<text transform="translate(-53.9,20.4) scale(1.05,1.06)">x</text>
<text transform="translate(0.0,20.4) scale(1.12,1.0)">C</text>
<text transform="translate(38.8,20.4) scale(1.2,1.06)">o</text>
<text transform="translate(73.8,20.4) scale(1.18,1.06)">p</text>
<text transform="translate(108.3,20.4) scale(1.05,1.06)">y</text>
<text transform="translate(156.7,20.4) scale(0.92,1.0)">R</text>
<text transform="translate(179.8,20.4) scale(1.0,1.0)">i</text>
<text transform="translate(204.9,20.4) scale(1.18,1.06)">g</text>
<text transform="translate(241.7,20.4) scale(1.08,1.0)">h</text>
<text transform="translate(268.8,20.4) scale(1.1,1.0)">t</text>
<text transform="translate(297.0,20.4) scale(1.18,1.06)">e</text>
<text transform="translate(334.9,20.4) scale(1.18,1.0)">d</text>
</g>
<g transform="translate(159.5,134) rotate(-45)">
<text transform="translate(-244.2,20.4) scale(1.0,1.0)">N</text>
<text transform="translate(-204.6,20.4) scale(1.18,1.06)">e</text>
<text transform="translate(-163.3,20.4) scale(1.08,1.06)">w</text>
<text transform="translate(-123.1,20.4) scale(1.1,1.06)">n</text>
<text transform="translate(-87.2,20.4) scale(1.18,1.06)">e</text>
<text transform="translate(-53.9,20.4) scale(1.05,1.06)">x</text>
<text transform="translate(0.0,20.4) scale(1.12,1.0)">C</text>
<text transform="translate(38.8,20.4) scale(1.2,1.06)">o</text>
<text transform="translate(73.8,20.4) scale(1.18,1.06)">p</text>
<text transform="translate(108.3,20.4) scale(1.05,1.06)">y</text>
<text transform="translate(156.7,20.4) scale(0.92,1.0)">R</text>
<text transform="translate(179.8,20.4) scale(1.0,1.0)">i</text>
<text transform="translate(204.9,20.4) scale(1.18,1.06)">g</text>
<text transform="translate(241.7,20.4) scale(1.08,1.0)">h</text>
<text transform="translate(268.8,20.4) scale(1.1,1.0)">t</text>
<text transform="translate(297.0,20.4) scale(1.18,1.06)">e</text>
<text transform="translate(334.9,20.4) scale(1.18,1.0)">d</text>
</g>
<g transform="translate(265,238) rotate(-45)">
<text transform="translate(-244.2,20.4) scale(1.0,1.0)">N</text>
<text transform="translate(-204.6,20.4) scale(1.18,1.06)">e</text>
<text transform="translate(-163.3,20.4) scale(1.08,1.06)">w</text>
<text transform="translate(-123.1,20.4) scale(1.1,1.06)">n</text>
<text transform="translate(-87.2,20.4) scale(1.18,1.06)">e</text>
<text transform="translate(-53.9,20.4) scale(1.05,1.06)">x</text>
<text transform="translate(0.0,20.4) scale(1.12,1.0)">C</text>
<text transform="translate(38.8,20.4) scale(1.2,1.06)">o</text>
<text transform="translate(73.8,20.4) scale(1.18,1.06)">p</text>
<text transform="translate(108.3,20.4) scale(1.05,1.06)">y</text>
<text transform="translate(156.7,20.4) scale(0.92,1.0)">R</text>
<text transform="translate(179.8,20.4) scale(1.0,1.0)">i</text>
<text transform="translate(204.9,20.4) scale(1.18,1.06)">g</text>
<text transform="translate(241.7,20.4) scale(1.08,1.0)">h</text>
<text transform="translate(268.8,20.4) scale(1.1,1.0)">t</text>
<text transform="translate(297.0,20.4) scale(1.18,1.06)">e</text>
<text transform="translate(334.9,20.4) scale(1.18,1.0)">d</text>
</g>
<g transform="translate(368.5,341.5) rotate(-45)">
<text transform="translate(-244.2,20.4) scale(1.0,1.0)">N</text>
<text transform="translate(-204.6,20.4) scale(1.18,1.06)">e</text>
<text transform="translate(-163.3,20.4) scale(1.08,1.06)">w</text>
<text transform="translate(-123.1,20.4) scale(1.1,1.06)">n</text>
<text transform="translate(-87.2,20.4) scale(1.18,1.06)">e</text>
<text transform="translate(-53.9,20.4) scale(1.05,1.06)">x</text>
<text transform="translate(0.0,20.4) scale(1.12,1.0)">C</text>
<text transform="translate(38.8,20.4) scale(1.2,1.06)">o</text>
<text transform="translate(73.8,20.4) scale(1.18,1.06)">p</text>
<text transform="translate(108.3,20.4) scale(1.05,1.06)">y</text>
<text transform="translate(156.7,20.4) scale(0.92,1.0)">R</text>
<text transform="translate(179.8,20.4) scale(1.0,1.0)">i</text>
<text transform="translate(204.9,20.4) scale(1.18,1.06)">g</text>
<text transform="translate(241.7,20.4) scale(1.08,1.0)">h</text>
<text transform="translate(268.8,20.4) scale(1.1,1.0)">t</text>
<text transform="translate(297.0,20.4) scale(1.18,1.06)">e</text>
<text transform="translate(334.9,20.4) scale(1.18,1.0)">d</text>
</g>
<g transform="translate(472.5,444.5) rotate(-45)">
<text transform="translate(-244.2,20.4) scale(1.0,1.0)">N</text>
<text transform="translate(-204.6,20.4) scale(1.18,1.06)">e</text>
<text transform="translate(-163.3,20.4) scale(1.08,1.06)">w</text>
<text transform="translate(-123.1,20.4) scale(1.1,1.06)">n</text>
<text transform="translate(-87.2,20.4) scale(1.18,1.06)">e</text>
<text transform="translate(-53.9,20.4) scale(1.05,1.06)">x</text>
<text transform="translate(0.0,20.4) scale(1.12,1.0)">C</text>
<text transform="translate(38.8,20.4) scale(1.2,1.06)">o</text>
<text transform="translate(73.8,20.4) scale(1.18,1.06)">p</text>
<text transform="translate(108.3,20.4) scale(1.05,1.06)">y</text>
<text transform="translate(156.7,20.4) scale(0.92,1.0)">R</text>
<text transform="translate(179.8,20.4) scale(1.0,1.0)">i</text>
<text transform="translate(204.9,20.4) scale(1.18,1.06)">g</text>
<text transform="translate(241.7,20.4) scale(1.08,1.0)">h</text>
<text transform="translate(268.8,20.4) scale(1.1,1.0)">t</text>
<text transform="translate(297.0,20.4) scale(1.18,1.06)">e</text>
<text transform="translate(334.9,20.4) scale(1.18,1.0)">d</text>
</g>
<g transform="translate(576,548) rotate(-45)">
<text transform="translate(-244.2,20.4) scale(1.0,1.0)">N</text>
<text transform="translate(-204.6,20.4) scale(1.18,1.06)">e</text>
<text transform="translate(-163.3,20.4) scale(1.08,1.06)">w</text>
<text transform="translate(-123.1,20.4) scale(1.1,1.06)">n</text>
<text transform="translate(-87.2,20.4) scale(1.18,1.06)">e</text>
<text transform="translate(-53.9,20.4) scale(1.05,1.06)">x</text>
<text transform="translate(0.0,20.4) scale(1.12,1.0)">C</text>
<text transform="translate(38.8,20.4) scale(1.2,1.06)">o</text>
<text transform="translate(73.8,20.4) scale(1.18,1.06)">p</text>
<text transform="translate(108.3,20.4) scale(1.05,1.06)">y</text>
<text transform="translate(156.7,20.4) scale(0.92,1.0)">R</text>
<text transform="translate(179.8,20.4) scale(1.0,1.0)">i</text>
<text transform="translate(204.9,20.4) scale(1.18,1.06)">g</text>
<text transform="translate(241.7,20.4) scale(1.08,1.0)">h</text>
<text transform="translate(268.8,20.4) scale(1.1,1.0)">t</text>
<text transform="translate(297.0,20.4) scale(1.18,1.06)">e</text>
<text transform="translate(334.9,20.4) scale(1.18,1.0)">d</text>
</g>
</g>
</svg>
</body></html>
